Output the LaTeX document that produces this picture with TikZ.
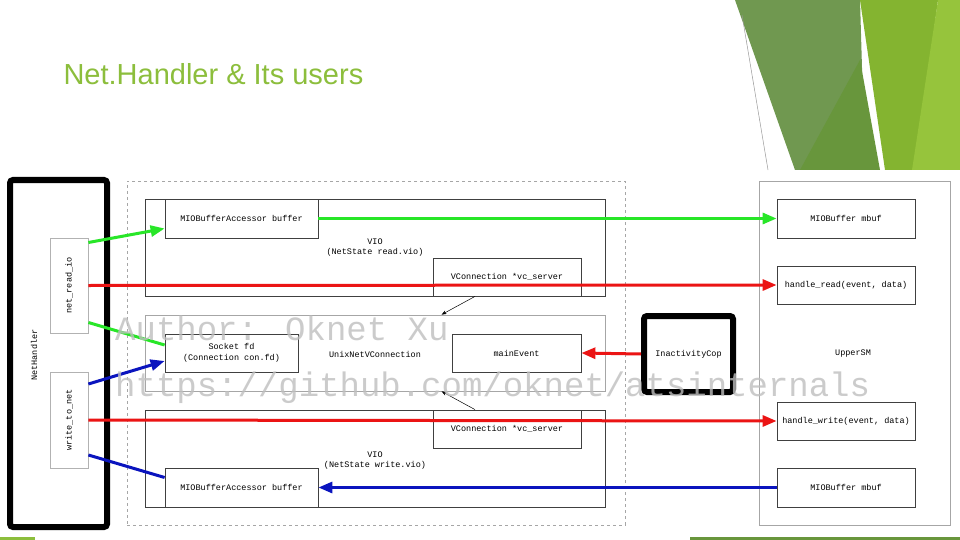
\documentclass[tikz,border=0pt]{standalone}
\usepackage{fontspec}
\setmainfont{Liberation Sans}
\newfontfamily\mono{Liberation Mono}
\usetikzlibrary{arrows.meta}
\definecolor{ttl}{RGB}{140,190,60}
\definecolor{gA}{RGB}{112,152,80}
\definecolor{gB}{RGB}{104,150,60}
\definecolor{gC}{RGB}{132,180,48}
\definecolor{gD}{RGB}{150,196,60}
\definecolor{grn}{RGB}{40,230,40}
\definecolor{rd}{RGB}{235,20,20}
\definecolor{bl}{RGB}{10,20,190}
\begin{document}
\begin{tikzpicture}[x=1pt,y=-1pt,
  box/.style={draw=black!75,line width=0.8pt,inner sep=0pt,font=\mono\fontsize{8.5}{10}\selectfont,align=center},
  gbox/.style={draw=black!35,line width=0.8pt,inner sep=0pt},
  thick box/.style={draw=black,line width=6pt,rounded corners=3pt,inner sep=0pt,font=\mono\fontsize{8.5}{10}\selectfont},
  lbl/.style={font=\mono\fontsize{8.5}{10}\selectfont,align=center,inner sep=0pt},
  fat/.style={line width=3pt},
  tip/.style={-{Triangle[length=14pt,width=11pt]}}]
\useasboundingbox (0,0) rectangle (960,540);
\fill[white] (0,0) rectangle (960,540);
% decoration
\fill[gA] (735,0) -- (860,0) -- (865,170) -- (795,170) -- cycle;
\fill[gB] (800,170) -- (860,60) -- (880,170) -- cycle;
\fill[gC] (860,0) -- (938,0) -- (915,170) -- (885,170) -- cycle;
\fill[gD] (938,0) -- (960,0) -- (960,170) -- (912,170) -- cycle;
\draw[black!40,line width=0.5pt] (742,15) -- (768,170);
\fill[ttl] (0,537) rectangle (35,540);
\fill[gB] (690,537) rectangle (960,540);
\node[anchor=west,text=ttl,font=\fontsize{29}{32}\selectfont] (title) at (60,74) {Net.Handler \& Its users};
% containers
\node[gbox,dashed,minimum width=498,minimum height=344] (vc) at (376,353) {};
\node[gbox,minimum width=191,minimum height=344] (sm) at (854.5,353) {};
\node[lbl] (smt) at (853,354) {UpperSM};
\node[thick box,minimum width=97,minimum height=347] (nh) at (58.5,353.5) {};
\node[lbl,rotate=90] (nht) at (34,355) {NetHandler};
\node[box,draw=black!30,minimum width=38,minimum height=95] (nri) at (69,285.5) {};
\node[lbl,rotate=90] at (69,285.5) {net\_read\_io};
\node[box,draw=black!30,minimum width=38,minimum height=96] (wtn) at (69,420) {};
\node[lbl,rotate=90] at (69,420) {write\_to\_net};
% read VIO
\node[box,minimum width=460,minimum height=97] (vior) at (375,247.5) {};
\node[box,minimum width=153,minimum height=39] (bufr) at (241.5,218.5) {MIOBufferAccessor buffer};
\node[lbl] (viort) at (375,248) {VIO\\(NetState read.vio)};
\node[box,minimum width=148,minimum height=38] (vcr) at (507,277) {VConnection *vc\_server};
% UnixNetVConnection
\node[box,draw=black!35,minimum width=460,minimum height=76] (unvc) at (375,353) {};
\node[box,minimum width=133,minimum height=38] (sock) at (231.5,353) {Socket fd\\[1pt](Connection con.fd)};
\node[lbl] (unvct) at (375,354) {UnixNetVConnection};
\node[box,minimum width=129,minimum height=38] (main) at (516.5,353) {mainEvent};
% write VIO
\node[box,minimum width=460,minimum height=97] (viow) at (375,458.5) {};
\node[box,minimum width=148,minimum height=38] (vcw) at (507,429) {VConnection *vc\_server};
\node[lbl] (viowt) at (375,461) {VIO\\(NetState write.vio)};
\node[box,minimum width=153,minimum height=39] (bufw) at (241.5,487.5) {MIOBufferAccessor buffer};
% inactivity
\node[thick box,minimum width=89,minimum height=76] (ic) at (688.5,354) {InactivityCop};
% UpperSM boxes
\node[box,minimum width=138,minimum height=39] (mb1) at (846,218.5) {MIOBuffer mbuf};
\node[box,minimum width=138,minimum height=38] (hr) at (846,285) {handle\_read(event, data)};
\node[box,minimum width=138,minimum height=38] (hw) at (846,421) {handle\_write(event, data)};
\node[box,minimum width=138,minimum height=39] (mb2) at (846,487.5) {MIOBuffer mbuf};
% connectors
\draw[fat,grn,tip] ([yshift=43]nri.east) -- ([yshift=-10]bufr.west);
\draw[fat,grn,tip] (bufr.east) -- (mb1.west);
\draw[fat,grn] ([yshift=-37]nri.east) -- ([yshift=8]sock.west);
\draw[fat,rd,tip] (nri.east) -- (hr.west);
\draw[fat,rd,tip] (wtn.east) -- (hw.west);
\draw[fat,bl,tip] ([yshift=36]wtn.east) -- ([yshift=-8]sock.west);
\draw[fat,bl] ([yshift=-35]wtn.east) -- ([yshift=10]bufw.west);
\draw[fat,bl,tip] (mb2.west) -- (bufw.east);
\draw[fat,rd,tip] (ic.west) -- (main.east);
\draw[black,line width=0.5pt,-{Stealth[length=5pt]}] ([xshift=-32]vcr.south) -- ([xshift=-10]main.north west |- unvc.north);
\draw[black,line width=0.5pt,-{Stealth[length=5pt]}] ([xshift=-32]vcw.north) -- ([xshift=-10]main.south west |- unvc.south);
% watermark
\node[anchor=base west,inner sep=0pt,text=black!25,opacity=0.8,font=\mono\fontsize{34}{34}\selectfont] (wm1) at (115,340) {Author: Oknet Xu};
\node[anchor=base west,inner sep=0pt,text=black!25,opacity=0.8,font=\mono\fontsize{34}{34}\selectfont] (wm2) at (115,396) {https://github.com/oknet/atsinternals};
\end{tikzpicture}
\end{document}
